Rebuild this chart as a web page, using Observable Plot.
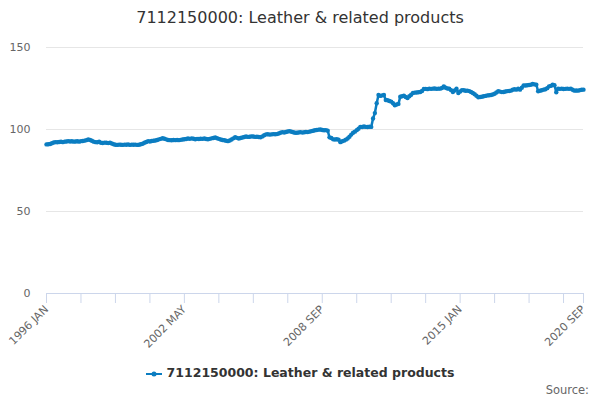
<!DOCTYPE html>
<html>
<head>
<meta charset="utf-8">
<script src="https://cdn.jsdelivr.net/npm/d3@7"></script>
<script src="https://cdn.jsdelivr.net/npm/@observablehq/plot@0.6"></script>
<style>
  html, body { margin: 0; padding: 0; background: #fff; }
  #wrap { position: relative; width: 600px; height: 400px; font-family: "DejaVu Sans", sans-serif; overflow: hidden; }
  #title { position: absolute; top: 8px; left: 0; width: 600px; text-align: center; font-size: 16px; color: #333; }
  #legend { position: absolute; top: 365px; left: 0; width: 600px; text-align: center; font-size: 12.5px; font-weight: bold; color: #333; }
  #legend svg { vertical-align: middle; margin-right: 5px; }
  #source { position: absolute; top: 383px; right: 11px; font-size: 11.5px; color: #666; }
  #chart { position: absolute; top: 0; left: 0; }
</style>
</head>
<body>
<div id="wrap">
  <div id="chart"></div>
  <div id="title">7112150000: Leather &amp; related products</div>
  <div id="legend"><svg width="16" height="10"><line x1="0" y1="5" x2="16" y2="5" stroke="#0b7dc1" stroke-width="2"/><circle cx="8" cy="5" r="2.5" fill="#0b7dc1"/></svg>7112150000: Leather &amp; related products</div>
  <div id="source">Source:</div>
</div>
<script>
const seriesName = "7112150000: Leather & related products";
const monthNames = ["JAN","FEB","MAR","APR","MAY","JUN","JUL","AUG","SEP","OCT","NOV","DEC"];
const startYear = 1996;
const values = [
  // 1996
  90.9, 91.0, 91.2, 91.6, 92.1, 92.3, 92.2, 92.4, 92.5, 92.3, 92.6, 92.7,
  // 1997
  92.9, 92.7, 92.8, 92.6, 92.7, 92.8, 92.6, 92.9, 93.0, 93.2, 93.5, 93.9,
  // 1998
  93.6, 93.1, 92.6, 92.3, 92.2, 92.5, 91.9, 91.8, 92.0, 91.9, 91.7, 91.9,
  // 1999
  91.5, 91.0, 90.7, 90.6, 90.8, 90.7, 90.6, 90.8, 90.7, 90.9, 90.6, 90.8,
  // 2000
  90.7, 90.8, 90.6, 90.7, 91.0, 91.3, 91.9, 92.4, 92.9, 92.7, 93.0, 93.1,
  // 2001
  93.3, 93.6, 94.0, 94.3, 94.7, 94.4, 94.0, 93.6, 93.5, 93.4, 93.6, 93.5,
  // 2002
  93.6, 93.5, 93.7, 93.9, 94.1, 94.2, 94.5, 94.3, 94.6, 94.4, 94.1, 94.3,
  // 2003
  94.2, 94.4, 94.3, 94.5, 94.2, 94.1, 94.3, 94.6, 94.8, 95.1, 94.7, 94.3,
  // 2004
  93.9, 93.6, 93.4, 93.1, 92.9, 93.3, 93.9, 94.6, 95.3, 94.9, 94.5, 94.8,
  // 2005
  95.1, 95.4, 95.7, 95.5, 95.6, 95.8, 95.7, 95.5, 95.6, 95.4, 95.3, 95.8,
  // 2006
  96.5, 97.0, 97.1, 96.9, 97.0, 97.2, 97.1, 97.2, 97.6, 98.0, 98.4, 98.2,
  // 2007
  98.5, 98.8, 99.0, 98.6, 98.3, 98.0, 98.0, 98.2, 98.4, 98.1, 98.3, 98.5,
  // 2008
  98.4, 98.7, 99.0, 99.2, 99.5, 99.7, 99.9, 100.0, 99.7, 99.5, 99.6, 99.3,
  // 2009
  95.2, 94.8, 94.0, 93.9, 94.1, 93.8, 92.3, 92.8, 93.2, 93.8, 94.5, 95.6,
  // 2010
  96.9, 98.0, 98.7, 99.6, 100.5, 101.6, 101.5, 101.8, 101.6, 101.5, 101.7, 101.6,
  // 2011
  106.7, 110.0, 116.0, 121.0, 120.5, 120.8, 121.0, 118.0, 117.8, 117.4, 117.0, 116.0,
  // 2012
  114.8, 115.2, 115.6, 120.0, 120.3, 120.6, 119.8, 119.2, 120.3, 121.2, 122.3, 122.5,
  // 2013
  122.6, 122.7, 122.9, 123.5, 124.7, 124.8, 124.6, 124.9, 124.8, 124.9, 125.0, 124.8,
  // 2014
  124.9, 124.9, 125.3, 126.3, 125.5, 125.0, 124.9, 124.0, 122.9, 123.8, 124.9, 122.3,
  // 2015
  123.2, 124.0, 123.9, 123.6, 123.7, 123.4, 122.9, 122.3, 121.5, 120.6, 119.6, 119.8,
  // 2016
  120.0, 120.3, 120.5, 120.8, 120.9, 121.0, 121.3, 121.8, 122.6, 123.3, 123.1, 122.8,
  // 2017
  122.9, 123.2, 123.4, 123.5, 123.7, 124.2, 124.5, 124.3, 124.9, 124.3, 125.5, 126.9,
  // 2018
  126.8, 127.0, 127.1, 127.3, 127.7, 127.5, 127.3, 123.3, 123.6, 123.9, 124.3, 124.5,
  // 2019
  125.2, 126.3, 126.6, 127.3, 127.0, 122.7, 124.9, 124.8, 124.9, 124.7, 124.8, 124.9,
  // 2020
  124.8, 124.9, 124.2, 123.7, 123.8, 123.7, 124.0, 124.2, 124.3
];
const categories = values.map((_, i) => `${startYear + Math.floor(i / 12)} ${monthNames[i % 12]}`);
const tickLabels = ["1996 JAN", "2002 MAY", "2008 SEP", "2015 JAN", "2020 SEP"];
const minorTicks = categories.filter((_, i) => i % 19 === 0).concat([categories[categories.length - 1]]);
const yTicks = [0, 50, 100, 150];

const data = values.map((v, i) => ({period: categories[i], value: v}));
const color = "#0b7dc1";

const chart = Plot.plot({
  width: 600,
  height: 400,
  marginLeft: 46,
  marginRight: 17,
  marginTop: 47,
  marginBottom: 107,
  style: {fontFamily: "DejaVu Sans, sans-serif", fontSize: "11px", color: "#666", background: "transparent"},
  x: {type: "point", domain: categories, padding: 0},
  y: {domain: [0, 150]},
  marks: [
    Plot.gridY(yTicks, {stroke: "#e6e6e6", strokeOpacity: 1}),
    Plot.axisY({ticks: yTicks, tickSize: 0, tickPadding: 16, label: null, fill: "#666", fontSize: 11}),
    Plot.ruleY([0], {stroke: "#ccd6eb"}),
    Plot.axisX({ticks: minorTicks, tickSize: 10, stroke: "#ccd6eb", strokeOpacity: 1, tickFormat: () => "", label: null}),
    Plot.axisX({ticks: tickLabels, tickSize: 0, tickRotate: -45, tickPadding: 14, label: null, fill: "#666", fontSize: 11}),
    Plot.line(data, {x: "period", y: "value", stroke: color, strokeWidth: 2.5}),
    Plot.dot(data, {x: "period", y: "value", fill: color, r: 2.2})
  ]
});
document.getElementById("chart").appendChild(chart);
</script>
</body>
</html>
